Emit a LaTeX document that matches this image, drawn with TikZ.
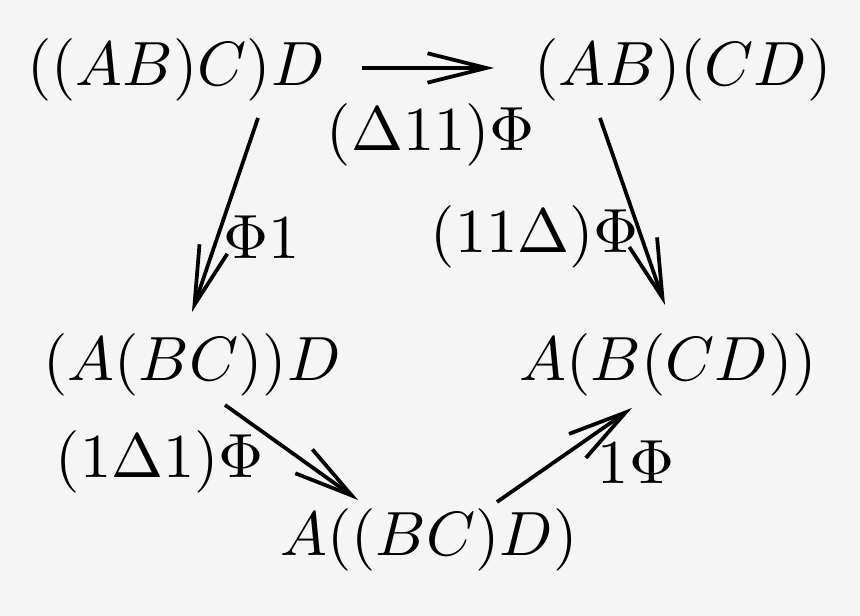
\documentclass[tikz,border=0pt]{standalone}
\usetikzlibrary{arrows.meta}
\definecolor{bg}{HTML}{F5F5F5}
\begin{document}
\begin{tikzpicture}[x=0.16pt,y=-0.16pt,
  obj/.style={inner sep=0pt,font=\fontsize{10.15}{12}\selectfont},
  lab/.style={inner sep=0pt,font=\fontsize{9.65}{11}\selectfont},
  arr/.style={line width=0.6pt,-{Straight Barb[length=9.4pt,width=4.7pt,line width=0.6pt]}}]
\fill[bg] (0,0) rectangle (860,616);
\useasboundingbox (0,0) rectangle (860,616);
\node[obj] (n1) at (176,70) {$((AB)C)D$};
\node[obj] (n2) at (683,70) {$(AB)(CD)$};
\node[obj] (n3) at (192,365) {$(A(BC))D$};
\node[obj] (n4) at (668,365) {$A(B(CD))$};
\node[obj] (n5) at (429,540) {$A((BC)D)$};
\coordinate (a1) at (362,68); \coordinate (b1) at (494,68);
\coordinate (a2) at (258,118); \coordinate (b2) at (192,312);
\coordinate (a3) at (600,118); \coordinate (b3) at (665,305);
\coordinate (a4) at (225,405); \coordinate (b4) at (358,500);
\coordinate (a5) at (497,502); \coordinate (b5) at (632,408);
\draw[arr] (a1) -- (b1);
\draw[arr] (a2) -- (b2);
\draw[arr] (a3) -- (b3);
\draw[arr] (a4) -- (b4);
\draw[arr] (a5) -- (b5);
\node[lab] (l1) at (431,135) {$(\Delta11)\Phi$};
\node[lab] (l2) at (262,237) {$\Phi1$};
\node[lab] (l3) at (535,237) {$(11\Delta)\Phi$};
\node[lab] (l4) at (160,462) {$(1\Delta1)\Phi$};
\node[lab] (l5) at (636,462) {$1\Phi$};
\end{tikzpicture}
\end{document}
